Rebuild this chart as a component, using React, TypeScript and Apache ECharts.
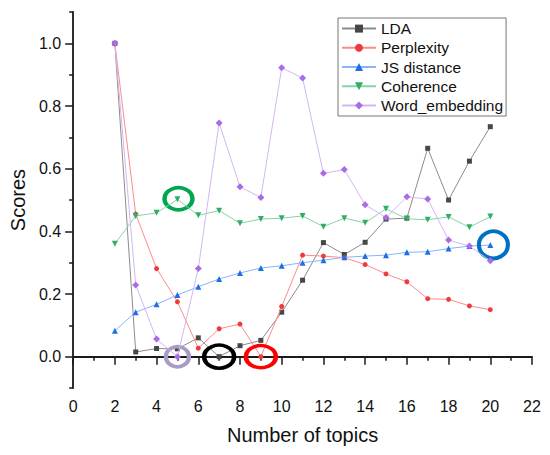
import React, { useEffect, useRef } from "react";
import * as echarts from "echarts";

const topics = [2, 3, 4, 5, 6, 7, 8, 9, 10, 11, 12, 13, 14, 15, 16, 17, 18, 19, 20];
const lda = [1.0, 0.015, 0.026, 0.025, 0.06, 0.0, 0.035, 0.052, 0.142, 0.244, 0.364, 0.326, 0.365, 0.439, 0.442, 0.665, 0.5, 0.624, 0.734];
const perplexity = [1.0, 0.455, 0.281, 0.175, 0.027, 0.089, 0.104, 0.0, 0.16, 0.324, 0.321, 0.316, 0.294, 0.264, 0.239, 0.185, 0.183, 0.162, 0.15];
const jsDistance = [0.083, 0.142, 0.167, 0.197, 0.223, 0.248, 0.267, 0.283, 0.29, 0.3, 0.308, 0.317, 0.321, 0.324, 0.333, 0.335, 0.345, 0.353, 0.356];
const coherence = [0.36, 0.449, 0.459, 0.502, 0.451, 0.466, 0.426, 0.439, 0.442, 0.449, 0.415, 0.442, 0.427, 0.472, 0.44, 0.437, 0.446, 0.413, 0.447];
const wordEmbedding = [1.0, 0.229, 0.056, 0.0, 0.281, 0.746, 0.542, 0.508, 0.922, 0.889, 0.585, 0.597, 0.485, 0.444, 0.51, 0.503, 0.372, 0.353, 0.306];

const seriesNames = ["LDA", "Perplexity", "JS distance", "Coherence", "Word_embedding"];
const lineColors = ["#8c8c8c", "#ff8a8a", "#86b4ff", "#86d4a4", "#d4b6f4"];
const markerColors = ["#474747", "#f03a3a", "#1e6fe6", "#2fae66", "#aa6ce6"];

// annotation ellipses: [x, y] centres, per series
const circleLDA = [7, 0.0];
const circlePerplexity = [9, 0.0];
const circleJS = [20.15, 0.357];
const circleCoherence = [5.05, 0.504];
const circleWord = [5, 0.0];

const yMajor = [0, 0.2, 0.4, 0.6, 0.8, 1.0];
const yMinor = [-0.1, 0.1, 0.3, 0.5, 0.7, 0.9, 1.1];

const FONT = "'Liberation Sans', Arial, sans-serif";

function ring(coord: number[], color: string, size: number[]) {
  return {
    symbol: "circle",
    silent: true,
    animation: false,
    label: { show: false },
    data: [
      {
        coord,
        symbolSize: size,
        itemStyle: { color: "transparent", borderColor: color, borderWidth: 4 },
      },
    ],
  };
}

export default function App() {
  const ref = useRef<HTMLDivElement>(null);
  useEffect(() => {
    document.body.style.margin = "0";
    if (!ref.current) return;
    const chart = echarts.init(ref.current, undefined, { renderer: "svg" });
    const values = [lda, perplexity, jsDistance, coherence, wordEmbedding];
    const symbols = ["rect", "circle", "triangle", "triangle", "diamond"];
    const sizes = [5, 5, 6, 6, 7];
    const rotates = [0, 0, 0, 180, 0];
    const marks = [
      ring(circleLDA, "#000000", [30, 23]),
      ring(circlePerplexity, "#ff0000", [30, 22]),
      ring(circleJS, "#0070c0", [29, 27]),
      ring(circleCoherence, "#00a650", [28, 22]),
      ring(circleWord, "#a99bc6", [23, 20]),
    ];
    const series = seriesNames.map((name, i) => ({
      name,
      type: "line",
      data: topics.map((t, j) => [t, values[i][j]]),
      symbol: symbols[i],
      symbolSize: sizes[i],
      symbolRotate: rotates[i],
      showAllSymbol: true,
      lineStyle: { color: lineColors[i], width: 1 },
      itemStyle: { color: markerColors[i] },
      markPoint: marks[i],
      z: 2 + i,
    }));
    const axisColor = "#1a1a1a";
    chart.setOption({
      animation: false,
      textStyle: { fontFamily: FONT },
      grid: { left: 65, right: 18, top: 12, bottom: 67 },
      legend: {
        orient: "vertical",
        left: 338,
        top: 18,
        data: seriesNames,
        itemWidth: 34,
        itemHeight: 10,
        itemGap: 0,
        padding: [1, 3, 1, 3],
        borderColor: "#777",
        borderWidth: 1,
        textStyle: { fontSize: 15.5, lineHeight: 19.2, color: "#111", fontFamily: FONT },
      },
      xAxis: {
        type: "value",
        min: 0,
        max: 22,
        interval: 2,
        name: "Number of topics",
        nameLocation: "middle",
        nameGap: 37,
        nameTextStyle: { fontSize: 20, color: "#111", fontFamily: FONT },
        axisLine: { lineStyle: { color: axisColor, width: 1.8 } },
        axisTick: { length: 8, lineStyle: { color: axisColor, width: 1.5 } },
        minorTick: { show: true, splitNumber: 2, length: 4, lineStyle: { color: axisColor, width: 1.5 } },
        axisLabel: { fontSize: 16, color: "#111", margin: 10, fontFamily: FONT },
        splitLine: { show: false },
      },
      yAxis: [
        {
          type: "value",
          min: -0.1,
          max: 1.1,
          position: "left",
          name: "Scores",
          nameLocation: "middle",
          nameGap: 44,
          nameTextStyle: { fontSize: 20, color: "#111", fontFamily: FONT },
          axisLine: { show: true, lineStyle: { color: axisColor, width: 1.8 } },
          axisTick: { show: true, length: 8, customValues: yMajor, lineStyle: { color: axisColor, width: 1.5 } },
          axisLabel: {
            fontSize: 16,
            color: "#111",
            margin: 12,
            customValues: yMajor,
            fontFamily: FONT,
            formatter: (v: number) => v.toFixed(1),
          },
          splitLine: { show: false },
        },
        {
          type: "value",
          min: -0.1,
          max: 1.1,
          position: "left",
          offset: 0,
          axisLine: { show: false },
          axisTick: { show: true, length: 4, customValues: yMinor, lineStyle: { color: axisColor, width: 1.5 } },
          axisLabel: { show: false },
          splitLine: { show: false },
        },
      ],
      series,
    });
    return () => chart.dispose();
  }, []);
  return <div ref={ref} style={{ width: 550, height: 455 }} />;
}
